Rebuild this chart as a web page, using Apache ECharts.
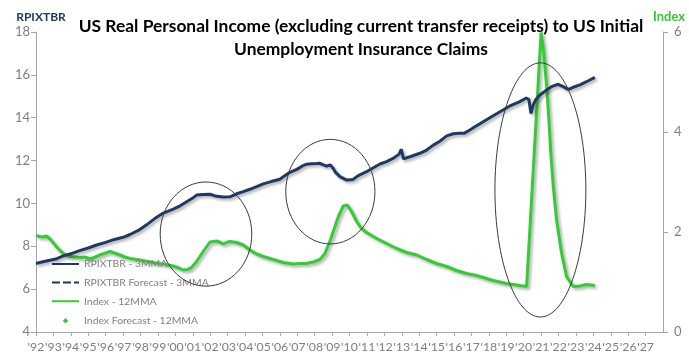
<!DOCTYPE html>
<html><head><meta charset="utf-8">
<script src="https://cdn.jsdelivr.net/npm/echarts@6/dist/echarts.min.js"></script>
<style>html,body{margin:0;padding:0;background:#fff}#c{width:689px;height:362px}</style>
</head><body><div id="c"></div>
<script>
// ---- data ----
const titleLines = ['US Real Personal Income (excluding current transfer receipts) to US Initial', 'Unemployment Insurance Claims'];
const seriesNames = ['RPIXTBR - 3MMA', 'RPIXTBR Forecast - 3MMA', 'Index - 12MMA', 'Index Forecast - 12MMA'];
const leftAxisName = 'RPIXTBR';
const rightAxisName = 'Index';

const rpiYears = [1992.00,1992.40,1992.80,1993.20,1993.57,1994.00,1994.50,1995.00,1995.48,1996.00,1996.50,1997.00,1997.40,1997.90,1998.35,1998.80,1999.31,1999.88,2000.30,2000.65,2001.00,2001.22,2001.60,2001.99,2002.37,2002.75,2003.14,2003.52,2003.90,2004.28,2004.67,2005.05,2005.50,2006.00,2006.30,2006.58,2006.97,2007.30,2007.54,2007.80,2008.11,2008.30,2008.50,2008.69,2008.90,2009.05,2009.20,2009.45,2009.84,2010.21,2010.50,2010.98,2011.27,2011.75,2012.13,2012.50,2012.85,2012.97,2013.10,2013.47,2014.04,2014.43,2014.81,2015.19,2015.58,2015.96,2016.30,2016.60,2016.91,2017.20,2017.49,2018.06,2018.64,2019.21,2019.78,2020.15,2020.30,2020.42,2020.55,2020.70,2020.93,2021.32,2021.60,2021.98,2022.27,2022.56,2022.84,2023.23,2023.61,2024.09];
const rpiValues = [7.20,7.28,7.35,7.42,7.55,7.65,7.80,7.92,8.06,8.18,8.32,8.42,8.55,8.75,9.00,9.28,9.55,9.73,9.90,10.08,10.25,10.39,10.42,10.43,10.33,10.30,10.31,10.45,10.55,10.66,10.78,10.91,11.02,11.13,11.30,11.45,11.59,11.75,11.83,11.85,11.86,11.87,11.80,11.74,11.80,11.65,11.45,11.25,11.09,11.12,11.30,11.48,11.62,11.84,11.95,12.10,12.30,12.53,12.08,12.18,12.34,12.49,12.72,12.90,13.15,13.25,13.27,13.28,13.43,13.58,13.72,14.00,14.28,14.55,14.75,14.92,14.85,14.20,14.60,14.85,15.06,15.29,15.45,15.56,15.45,15.32,15.42,15.53,15.68,15.88];

const idxYears = [1992.00,1992.20,1992.42,1992.60,1992.80,1993.00,1993.19,1993.40,1993.57,1993.95,1994.30,1994.53,1994.80,1995.10,1995.40,1995.67,1996.00,1996.25,1996.50,1996.82,1997.10,1997.40,1997.97,1998.54,1998.90,1999.31,1999.88,2000.20,2000.46,2000.70,2000.90,2001.22,2001.60,2001.99,2002.37,2002.60,2002.75,2003.00,2003.14,2003.52,2003.90,2004.28,2004.67,2005.05,2005.62,2006.20,2006.77,2007.15,2007.50,2007.92,2008.30,2008.59,2008.88,2009.07,2009.36,2009.64,2009.87,2010.12,2010.41,2010.69,2010.98,2011.56,2012.13,2012.71,2013.28,2013.86,2014.43,2015.00,2015.58,2016.15,2016.72,2017.30,2017.87,2018.25,2018.64,2019.02,2019.40,2019.78,2020.17,2020.22,2021.00,2021.16,2021.32,2021.45,2021.56,2021.70,2021.89,2022.18,2022.46,2022.84,2023.23,2023.61,2023.85,2024.09];
const idxValues = [1.93,1.91,1.90,1.92,1.86,1.78,1.70,1.62,1.57,1.51,1.50,1.49,1.50,1.46,1.50,1.54,1.58,1.61,1.58,1.54,1.50,1.47,1.44,1.40,1.38,1.36,1.32,1.28,1.24,1.25,1.28,1.41,1.61,1.80,1.82,1.79,1.76,1.80,1.81,1.79,1.74,1.64,1.56,1.51,1.45,1.39,1.36,1.37,1.37,1.40,1.45,1.57,1.82,2.01,2.31,2.52,2.54,2.41,2.21,2.07,1.99,1.87,1.77,1.67,1.59,1.54,1.45,1.37,1.31,1.23,1.17,1.13,1.07,1.03,1.00,0.97,0.95,0.93,0.91,0.92,5.99,5.57,4.91,4.24,3.57,2.91,2.24,1.57,1.11,0.91,0.92,0.95,0.94,0.93];

// highlight ellipses drawn on the chart: [centre year, centre value (left axis), radius in years, radius in left-axis units]
const highlightEllipses = [[2001.76, 8.57, 2.63, 2.43], [2008.90, 10.55, 2.56, 2.44], [2020.96, 10.63, 2.61, 5.93]];

// ---- chart ----
const FONT = "Lato, 'Noto Sans', sans-serif";
const NAVY = '#1F3864';
const GREEN = '#33CC33';
const GREY = '#7F7F7F';
const AXIS = '#A6A6A6';
const shadow = {shadowColor: 'rgba(0,0,0,0.32)', shadowBlur: 3, shadowOffsetX: 2, shadowOffsetY: 2};

const chart = echarts.init(document.getElementById('c'), null, {renderer: 'canvas'});
chart.setOption({
  animation: false,
  backgroundColor: '#ffffff',
  textStyle: {fontFamily: FONT},
  title: {
    text: titleLines.join('\n'),
    left: 361, top: 15, textAlign: 'center', padding: 0,
    textStyle: {fontFamily: FONT, fontSize: 17.4, fontWeight: 'bold', color: '#000', lineHeight: 23}
  },
  grid: {left: 36, right: 26, top: 32, bottom: 30, containLabel: false, outerBoundsMode: 'none'},
  legend: {
    orient: 'vertical', left: 51, top: 259, padding: 0,
    itemWidth: 27, itemHeight: 12, itemGap: 8.6,
    itemStyle: {opacity: 0},
    textStyle: {fontFamily: FONT, fontSize: 10.4, color: GREY},
    data: [
      {name: seriesNames[0]},
      {name: seriesNames[1]},
      {name: seriesNames[2]},
      {name: seriesNames[3], icon: 'path://M0,0M27,12M13.5,3.3L16.2,6L13.5,8.7L10.8,6Z', itemStyle: {opacity: 1, color: GREEN}}
    ]
  },
  xAxis: {
    type: 'value', min: 1992, max: 2028, interval: 1,
    axisLine: {show: true, lineStyle: {color: AXIS, width: 1}},
    axisTick: {show: true, length: 4, lineStyle: {color: AXIS}},
    splitLine: {show: false},
    axisLabel: {
      color: GREY, fontFamily: FONT, fontSize: 12.3, margin: 9, showMinLabel: true, showMaxLabel: false, hideOverlap: false,
      formatter: v => "'" + String(v).slice(2)
    }
  },
  yAxis: [
    {
      type: 'value', min: 4, max: 18, interval: 2, position: 'left',
      name: leftAxisName, nameLocation: 'end', nameGap: 9,
      nameTextStyle: {color: NAVY, fontWeight: 'bold', fontSize: 12, fontFamily: FONT, padding: [0, 0, 0, 10]},
      axisLine: {show: true, lineStyle: {color: AXIS, width: 1}},
      axisTick: {show: true, length: 5, lineStyle: {color: AXIS}},
      splitLine: {show: false},
      axisLabel: {color: GREY, fontFamily: FONT, fontSize: 13, margin: 6, showMinLabel: true, showMaxLabel: true}
    },
    {
      type: 'value', min: 0, max: 6, interval: 2, position: 'right',
      name: rightAxisName, nameLocation: 'end', nameGap: 9,
      nameTextStyle: {color: GREEN, fontWeight: 'bold', fontSize: 13, fontFamily: FONT, padding: [0, 0, 0, 12]},
      axisLine: {show: true, lineStyle: {color: AXIS, width: 1}},
      axisTick: {show: true, length: 5, lineStyle: {color: AXIS}},
      splitLine: {show: false},
      axisLabel: {color: GREY, fontFamily: FONT, fontSize: 13, margin: 11, showMinLabel: true, showMaxLabel: true}
    }
  ],
  series: [
    {
      name: seriesNames[2], type: 'line', yAxisIndex: 1, symbol: 'none', z: 3,
      data: idxYears.map((y, i) => [y, idxValues[i]]),
      itemStyle: {color: GREEN},
      lineStyle: Object.assign({color: GREEN, width: 3}, shadow)
    },
    {
      name: seriesNames[0], type: 'line', yAxisIndex: 0, symbol: 'none', z: 4,
      data: rpiYears.map((y, i) => [y, rpiValues[i]]),
      itemStyle: {color: NAVY},
      lineStyle: Object.assign({color: NAVY, width: 3}, shadow)
    },
    {
      name: seriesNames[1], type: 'line', yAxisIndex: 0, symbol: 'none',
      data: [],
      itemStyle: {color: NAVY},
      lineStyle: {color: NAVY, width: 3, type: [8, 3]}
    },
    {
      name: seriesNames[3], type: 'line', yAxisIndex: 1, symbol: 'diamond', symbolSize: 6,
      data: [],
      itemStyle: {color: GREEN},
      lineStyle: {width: 0}
    },
    {
      type: 'custom', yAxisIndex: 0, clip: false, z: 5, silent: true,
      encode: {x: 0, y: 1},
      data: highlightEllipses,
      renderItem: function (params, api) {
        const c = api.coord([api.value(0), api.value(1)]);
        const s = api.size([api.value(2), api.value(3)]);
        return {
          type: 'ellipse',
          shape: {cx: c[0], cy: c[1], rx: s[0], ry: s[1]},
          style: {fill: 'none', stroke: '#3a3a3a', lineWidth: 1}
        };
      }
    }
  ]
});
</script>
</body></html>
